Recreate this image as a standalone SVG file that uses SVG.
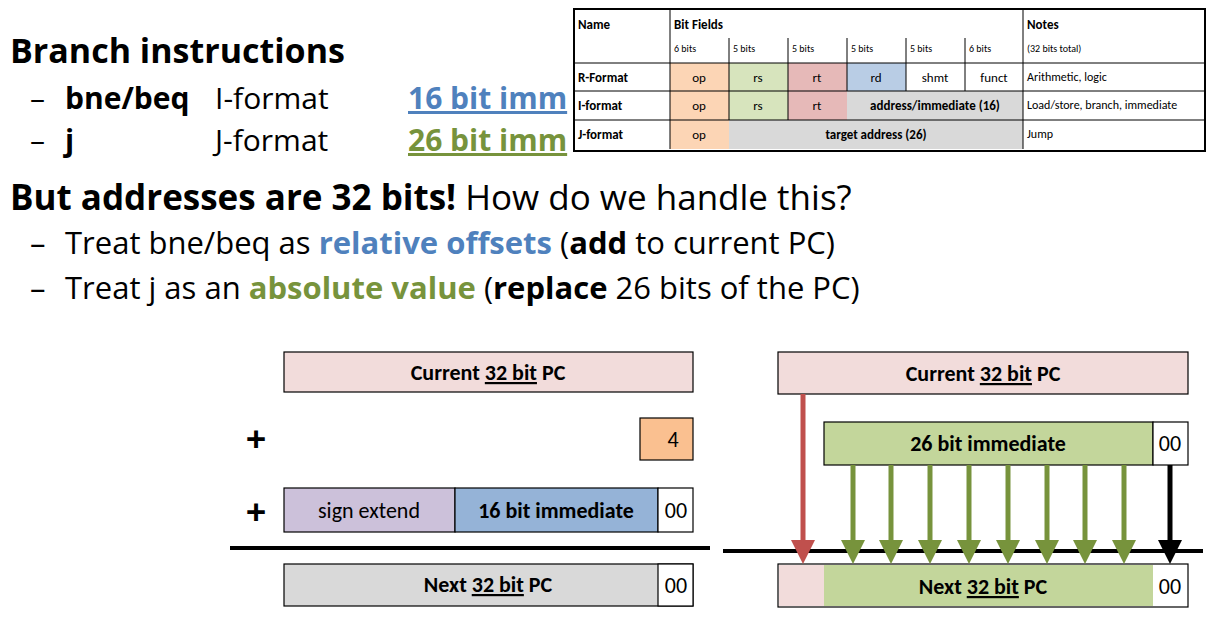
<svg xmlns="http://www.w3.org/2000/svg" width="1209" height="627" viewBox="0 0 1209 627">
<style>
text{font-family:"Open Sans","DejaVu Sans",sans-serif;fill:#000}
.b{font-weight:bold}
.t{font-family:Carlito,Calibri,"Liberation Sans",sans-serif}
.c{text-anchor:middle}
.bx{stroke:#000;stroke-width:1.2}
.tl{stroke:#000;stroke-width:1}
.s{font-size:10px}
.m{font-size:13px}
.d{font-size:22px}
</style>
<rect width="1209" height="627" fill="#fff"/>
<g id="text">
<text x="10" y="63" class="b" font-size="34">Branch instructions</text>
<text x="30" y="109" font-size="30">–</text><text x="65" y="109" font-size="30" class="b">bne/beq</text><text x="215" y="109" font-size="30">I-format</text>
<text x="408" y="109" font-size="30" class="b" style="fill:#4f81bd" text-decoration="underline">16 bit imm</text>
<text x="30" y="151" font-size="30">–</text><text x="65" y="151" font-size="30" class="b">j</text><text x="215" y="151" font-size="30">J-format</text>
<text x="408" y="151" font-size="30" class="b" style="fill:#77933c" text-decoration="underline">26 bit imm</text>
<text x="10" y="210" font-size="35"><tspan class="b">But addresses are 32 bits!</tspan> How do we handle this?</text>
<text x="30" y="254" font-size="31">–</text><text x="65" y="254" font-size="31">Treat bne/beq as <tspan class="b" style="fill:#4f81bd">relative offsets</tspan> (<tspan class="b">add</tspan> to current PC)</text>
<text x="30" y="299" font-size="31">–</text><text x="65" y="299" font-size="31">Treat j as an <tspan class="b" style="fill:#77933c">absolute value</tspan> (<tspan class="b">replace</tspan> 26 bits of the PC)</text>
</g>
<g id="table">
<rect x="574" y="9" width="631" height="142" fill="#fff" stroke="#000" stroke-width="2"/>
<rect x="670" y="63" width="59" height="86" fill="#fcd5b5"/>
<rect x="729" y="63" width="59" height="57" fill="#d7e4bd"/>
<rect x="788" y="63" width="59" height="57" fill="#e6b9b8"/>
<rect x="847" y="63" width="59" height="28" fill="#b9cde5"/>
<rect x="847" y="91" width="176" height="29" fill="#d9d9d9"/>
<rect x="729" y="120" width="294" height="29" fill="#d9d9d9"/>
<path class="tl" d="M670,9V149M1023,9V149M574,63H1205M574,91H1205M574,120H1205M729,38V120M788,38V120M847,38V91M906,38V91M965,38V91"/>
<text x="578" y="29" class="b t m">Name</text><text x="674" y="29" class="b t m">Bit Fields</text><text x="1027" y="29" class="b t m">Notes</text>
<text x="674" y="52" class="t s">6 bits</text><text x="733" y="52" class="t s">5 bits</text><text x="792" y="52" class="t s">5 bits</text><text x="851" y="52" class="t s">5 bits</text><text x="910" y="52" class="t s">5 bits</text><text x="969" y="52" class="t s">6 bits</text><text x="1027" y="52" class="t s">(32 bits total)</text>
<text x="578" y="82" class="b t m">R-Format</text><text x="578" y="110" class="b t m">I-format</text><text x="578" y="139" class="b t m">J-format</text>
<text x="699" y="82" class="t m c">op</text><text x="758" y="82" class="t m c">rs</text><text x="817" y="82" class="t m c">rt</text><text x="876" y="82" class="t m c">rd</text><text x="935" y="82" class="t m c">shmt</text><text x="994" y="82" class="t m c">funct</text>
<text x="699" y="110" class="t m c">op</text><text x="758" y="110" class="t m c">rs</text><text x="817" y="110" class="t m c">rt</text><text x="935" y="110" class="t m c b">address/immediate (16)</text>
<text x="699" y="139" class="t m c">op</text><text x="876" y="139" class="t m c b">target address (26)</text>
<text x="1027" y="81" class="t" font-size="12">Arithmetic, logic</text><text x="1027" y="109" class="t" font-size="12">Load/store, branch, immediate</text><text x="1027" y="138" class="t" font-size="12">Jump</text>
</g>
<g id="left">
<rect class="bx" x="284" y="352" width="409" height="40" fill="#f2dcdb"/>
<text x="488" y="380" class="b t c d">Current <tspan text-decoration="underline">32 bit</tspan> PC</text>
<text x="256" y="452" font-size="36" class="c b">+</text>
<rect class="bx" x="640" y="418" width="53" height="42" fill="#fac090"/><text x="673" y="447" class="t c d">4</text>
<text x="256" y="525" font-size="36" class="c b">+</text>
<rect class="bx" x="284" y="488" width="171" height="44" fill="#ccc1da"/><text x="369" y="518" class="t c d">sign extend</text>
<rect class="bx" x="455" y="488" width="203" height="44" fill="#95b3d7"/><text x="556" y="518" class="t c b d">16 bit immediate</text>
<rect class="bx" x="658" y="488" width="35" height="44" fill="#fff"/><text x="676" y="518" class="t c d">00</text>
<rect class="bx" x="284" y="564" width="409" height="42" fill="#d9d9d9"/><rect class="bx" x="658" y="564" width="35" height="42" fill="#fff"/>
<text x="488" y="592" class="b t c d">Next <tspan text-decoration="underline">32 bit</tspan> PC</text><text x="676" y="593" class="t c d">00</text>
</g>
<g id="right">
<rect class="bx" x="778" y="352" width="410" height="42" fill="#f2dcdb"/>
<text x="983" y="381" class="b t c d">Current <tspan text-decoration="underline">32 bit</tspan> PC</text>
<rect class="bx" x="824" y="422" width="329" height="43" fill="#c3d69b"/><text x="988" y="451" class="b t c d">26 bit immediate</text>
<rect class="bx" x="1153" y="422" width="35" height="43" fill="#fff"/><text x="1170" y="451" class="t c d">00</text>
<rect class="bx" x="778" y="564" width="410" height="43" fill="#fff"/>
<rect x="779" y="565" width="45" height="41" fill="#f2dcdb"/><rect x="824" y="565" width="329" height="41" fill="#c3d69b"/>
<text x="983" y="594" class="b t c d">Next <tspan text-decoration="underline">32 bit</tspan> PC</text><text x="1170" y="594" class="t c d">00</text>
</g>
<g id="connectors">
<path d="M230,548H710M723,551H1203" stroke="#000" stroke-width="4"/>
<path d="M803,394V542" stroke="#c0504d" stroke-width="5"/>
<path d="M791,540H815L803,564z" fill="#c0504d"/>
<g stroke="#77933c" stroke-width="5">
<path d="M853,465V542"/><path d="M891,465V542"/><path d="M930,465V542"/><path d="M969,465V542"/><path d="M1008,465V542"/><path d="M1047,465V542"/><path d="M1085,465V542"/><path d="M1124,465V542"/>
</g>
<g fill="#77933c">
<path d="M841,540H865L853,564z"/><path d="M879,540H903L891,564z"/><path d="M918,540H942L930,564z"/><path d="M957,540H981L969,564z"/><path d="M996,540H1020L1008,564z"/><path d="M1035,540H1059L1047,564z"/><path d="M1073,540H1097L1085,564z"/><path d="M1112,540H1136L1124,564z"/>
</g>
<path d="M1170,465V542" stroke="#000" stroke-width="5"/>
<path d="M1158,540H1182L1170,564z" fill="#000"/>
</g>
</svg>
